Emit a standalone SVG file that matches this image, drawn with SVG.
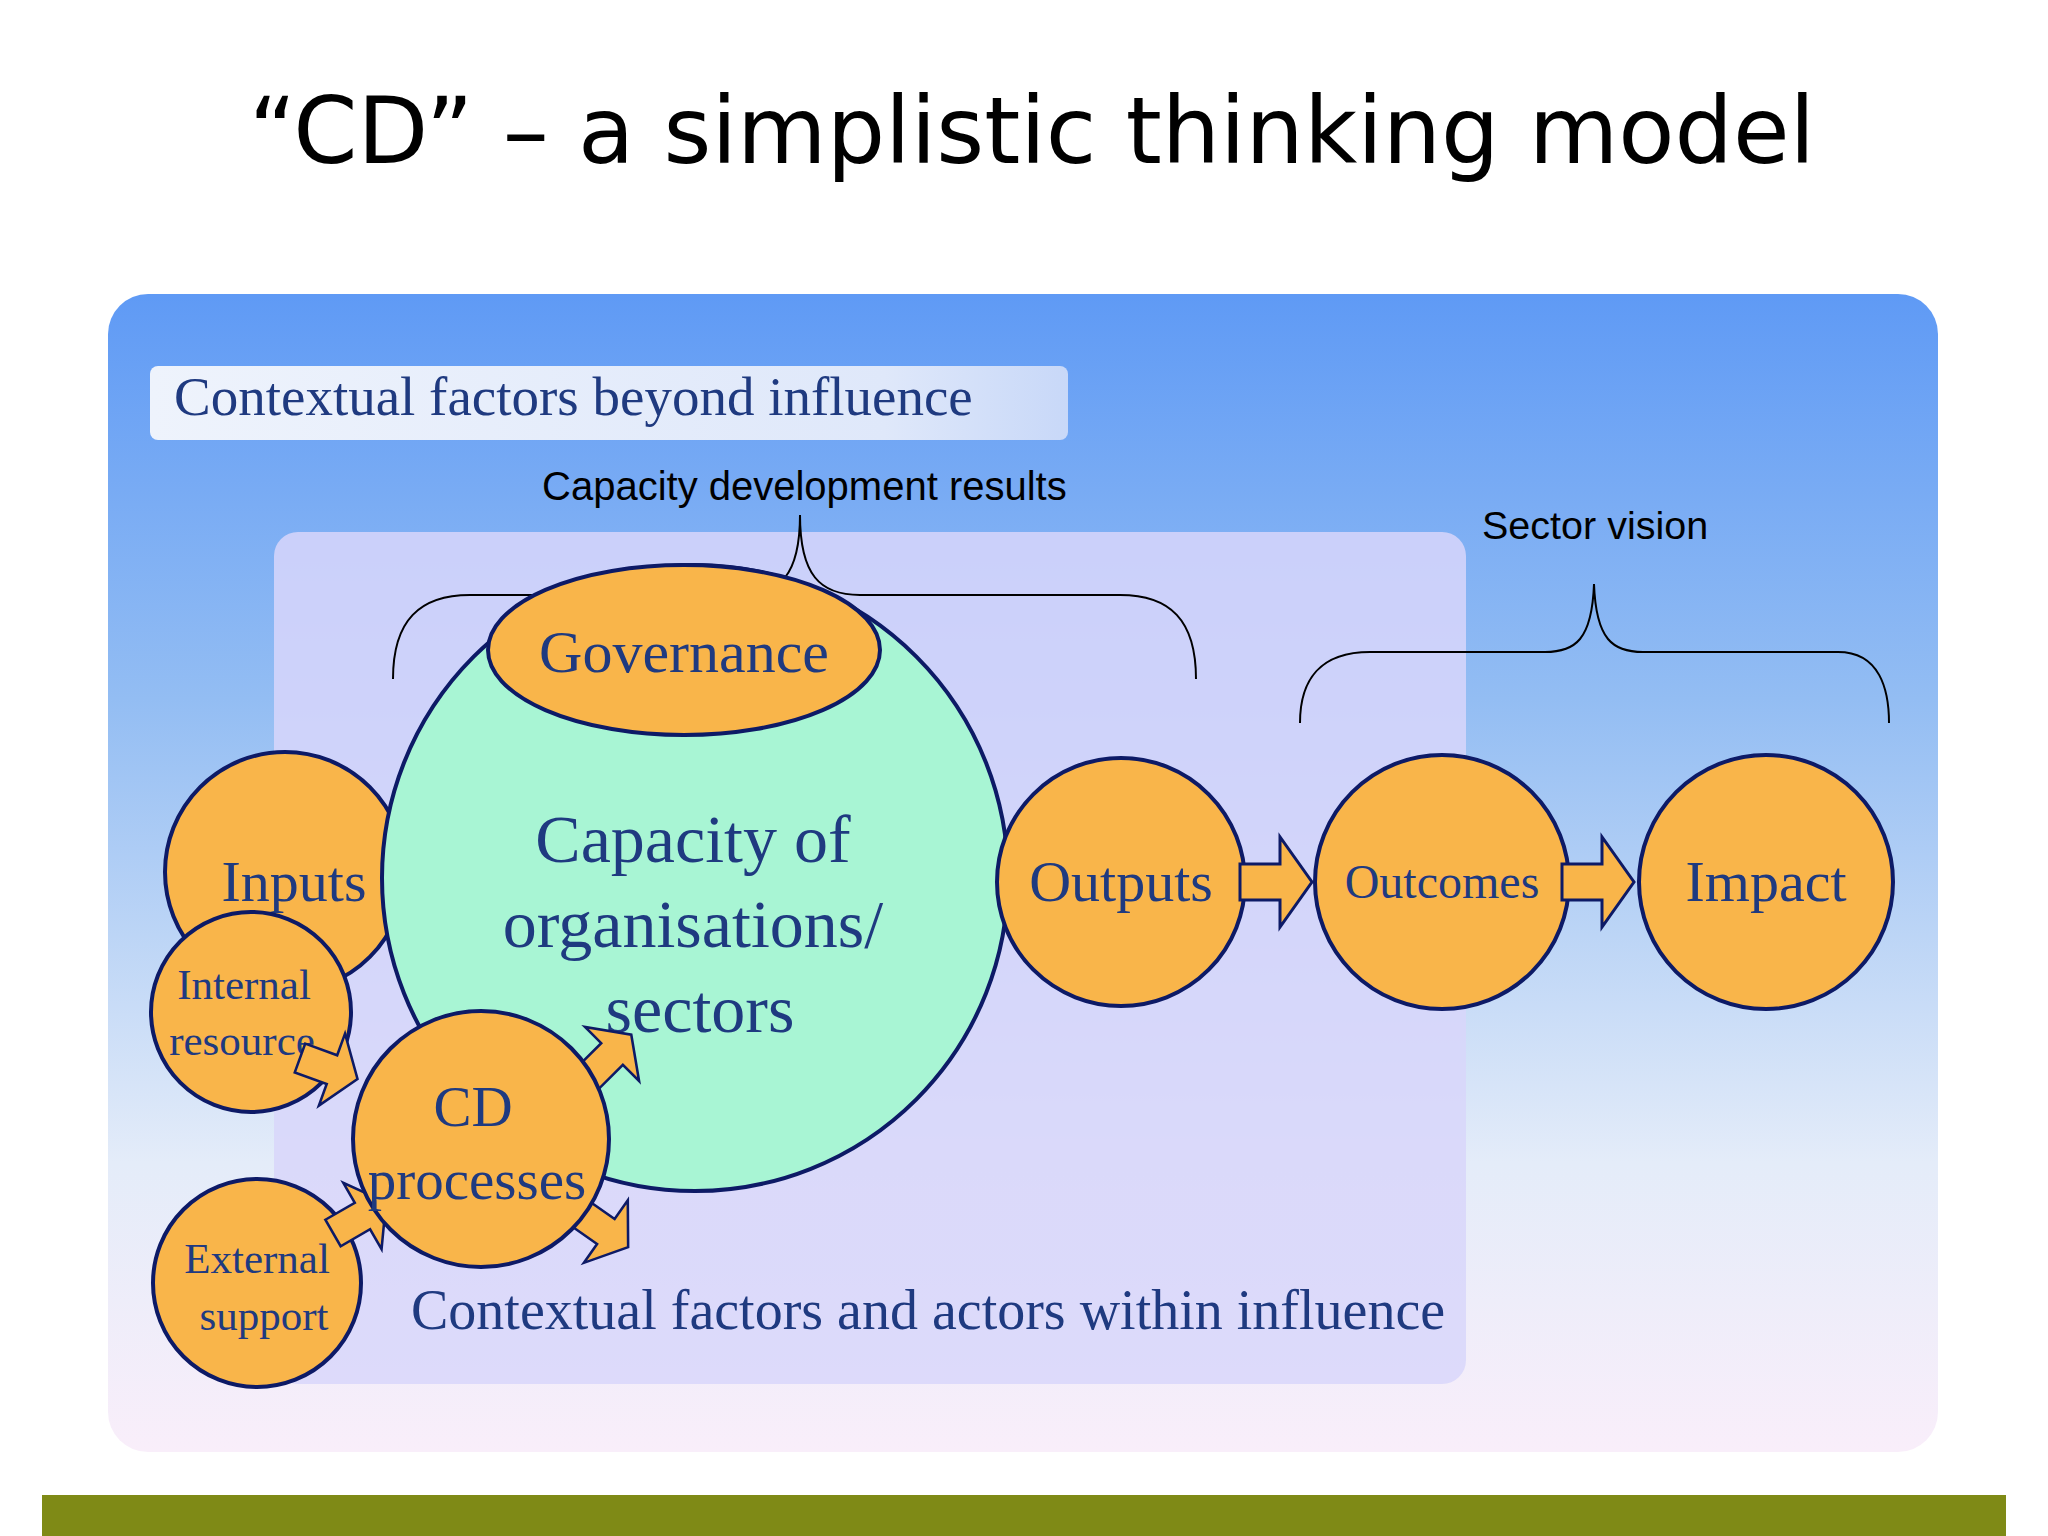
<svg xmlns="http://www.w3.org/2000/svg" width="2048" height="1536" viewBox="0 0 2048 1536">
<defs>
<linearGradient id="bg" x1="0" y1="0" x2="0" y2="1">
<stop offset="0" stop-color="#5f9af5"/><stop offset="0.35" stop-color="#93bdf3"/><stop offset="0.75" stop-color="#e4ecf9"/><stop offset="1" stop-color="#f9eefa"/>
</linearGradient>
<linearGradient id="lbl" x1="0" y1="0" x2="1" y2="0">
<stop offset="0" stop-color="#eef3fc"/><stop offset="0.8" stop-color="#dfe8fa"/><stop offset="1" stop-color="#c8d8f8"/>
</linearGradient>
<path id="arr" d="M0,-18 L40,-18 L40,-45 L72,0 L40,45 L40,18 L0,18 Z"/>
</defs>
<style>
.n{fill:#f9b54a;stroke:#0d1a66;stroke-width:4}
.t{font-family:"Liberation Serif",serif;fill:#1f3a80;text-anchor:middle}
.a{fill:#f9b54a;stroke:#0d1a66;stroke-width:3}
.b{fill:none;stroke:#000;stroke-width:2}
.s{font-family:"Liberation Sans",sans-serif;fill:#000}
</style>
<rect width="2048" height="1536" fill="#fff"/>
<text x="1032" y="163" font-family="'DejaVu Sans', sans-serif" font-size="92" text-anchor="middle" fill="#000">“CD” – a simplistic thinking model</text>
<rect x="108" y="294" width="1830" height="1158" rx="40" fill="url(#bg)"/>
<rect x="42" y="1495" width="1964" height="41" fill="#7f8a16"/>
<g id="context-label"><rect x="150" y="366" width="918" height="74" rx="8" fill="url(#lbl)"/>
<text x="174" y="415" class="t" style="text-anchor:start" font-size="55">Contextual factors beyond influence</text></g>
<g id="inner-box"><rect x="274" y="532" width="1192" height="852" rx="24" fill="#d8d6fa" opacity="0.85"/>
<text x="411" y="1329" class="t" style="text-anchor:start" font-size="56">Contextual factors and actors within influence</text></g>
<g id="braces">
<path class="b" d="M393,679 C393,620 420,595 470,595 L740,595 C780,595 800,575 800,515 C800,575 820,595 860,595 L1120,595 C1170,595 1196,620 1196,679"/>
<text x="542" y="500" class="s" font-size="40">Capacity development results</text>
<path class="b" d="M1300,723 C1300,680 1320,652 1370,652 L1545,652 C1575,652 1592,640 1594,584 C1596,640 1613,652 1643,652 L1838,652 C1880,652 1889,690 1889,723"/>
<text x="1482" y="539" class="s" font-size="39.5">Sector vision</text>
</g>
<g id="inputs"><circle class="n" cx="285" cy="872" r="120"/><text class="t" x="294" y="901" font-size="58">Inputs</text></g>
<g id="capacity"><circle cx="695" cy="878" r="313" fill="#a8f5d4" stroke="#0d1a66" stroke-width="4"/>
<text class="t" x="693" y="862" font-size="68">Capacity of</text><text class="t" x="693" y="947" font-size="68">organisations/</text><text class="t" x="700" y="1032" font-size="68">sectors</text></g>
<g id="governance"><ellipse class="n" cx="684" cy="650" rx="196" ry="85"/><text class="t" x="684" y="672" font-size="60">Governance</text></g>
<g id="outputs"><circle class="n" cx="1121" cy="882" r="124"/><text class="t" x="1121" y="901" font-size="58">Outputs</text></g>
<g id="outcomes"><circle class="n" cx="1442" cy="882" r="127"/><text class="t" x="1442" y="898" font-size="48">Outcomes</text></g>
<g id="impact"><circle class="n" cx="1766" cy="882" r="127"/><text class="t" x="1766" y="901" font-size="58">Impact</text></g>
<g id="internal"><circle class="n" cx="251" cy="1012" r="100"/><text class="t" x="244" y="999" font-size="43">Internal</text><text class="t" x="242" y="1055" font-size="43">resource</text></g>
<g id="external"><circle class="n" cx="257" cy="1283" r="104"/><text class="t" x="257" y="1273" font-size="43">External</text><text class="t" x="264" y="1330" font-size="43">support</text></g>
<g id="connectors">
<use href="#arr" class="a" transform="translate(1240,882)"/>
<use href="#arr" class="a" transform="translate(1562,882)"/>
<use href="#arr" class="a" transform="translate(300,1058) rotate(20) scale(0.85)"/>
<use href="#arr" class="a" transform="translate(333,1233) rotate(-30) scale(0.85)"/>
<use href="#arr" class="a" transform="translate(588,1078) rotate(-45) scale(0.85)"/>
<use href="#arr" class="a" transform="translate(578,1212) rotate(35) scale(0.85)"/>
</g>
<g id="cd"><circle class="n" cx="481" cy="1139" r="128"/><text class="t" x="473" y="1126" font-size="57">CD</text><text class="t" x="477" y="1199" font-size="57">processes</text></g>
</svg>
